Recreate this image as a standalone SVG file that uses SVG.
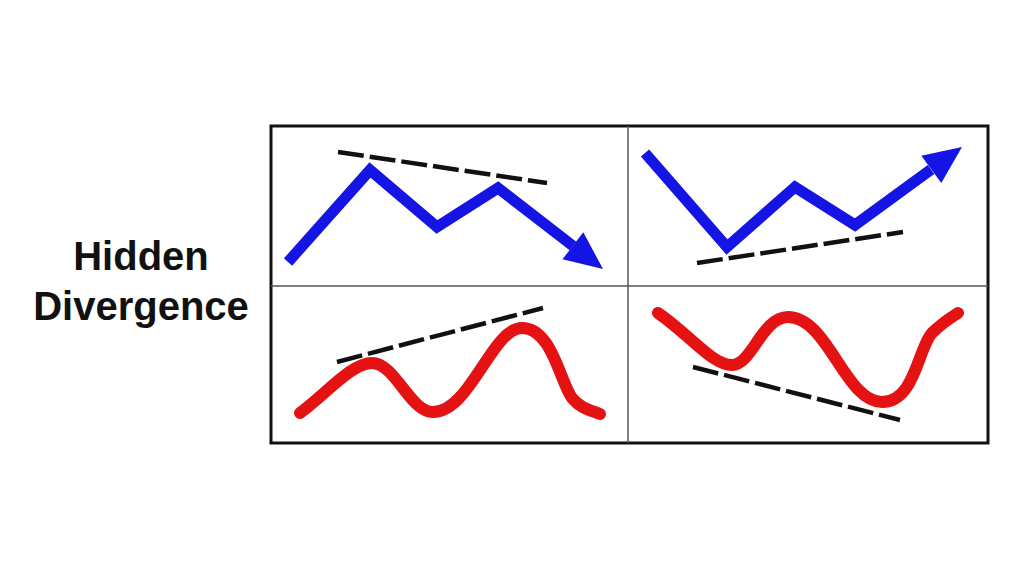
<svg xmlns="http://www.w3.org/2000/svg" width="1024" height="575" viewBox="0 0 1024 575">
<style>
.lbl{font-family:"Liberation Sans",Arial,sans-serif;font-weight:bold;font-size:40px;fill:#111;text-anchor:middle}
.blue{fill:none;stroke:#1414e4;stroke-width:11;stroke-linejoin:miter;stroke-linecap:butt}
.head{fill:#1414e4}
.red{fill:none;stroke:#e41212;stroke-width:12;stroke-linecap:round;stroke-linejoin:round}
.dash{fill:none;stroke:#111;stroke-width:4.5;stroke-dasharray:26 6}
.div{stroke:#555;stroke-width:1.5}
</style>
<rect width="1024" height="575" fill="#ffffff"/>
<g id="label">
<text class="lbl" x="141" y="270">Hidden</text>
<text class="lbl" x="141" y="320">Divergence</text>
</g>
<g id="frame">
<rect x="271" y="126" width="717" height="317" fill="none" stroke="#111" stroke-width="3"/>
<line class="div" x1="628" y1="126" x2="628" y2="443"/>
<line class="div" x1="271" y1="286" x2="988" y2="286"/>
</g>
<g id="top-left">
<polyline class="blue" points="288,262 370,170 437,227 498,188 573,246"/>
<polygon class="head" points="603,269 562.5,259.3 583.3,232.3"/>
<line class="dash" x1="338" y1="152" x2="547" y2="183"/>
</g>
<g id="top-right">
<polyline class="blue" points="645,153 727,247 795,187 855,225 931,169.5"/>
<polygon class="head" points="962,147 941.3,183.1 921.3,155.7"/>
<line class="dash" x1="697" y1="263" x2="903" y2="232"/>
</g>
<g id="bottom-left">
<path class="red" d="M300,413 C328,392 352,363 372,363 C395,363 410,412 433,412 C470,412 492,328 522,328 C552,328 560,382 572,398 C580,408 590,410 600,414"/>
<line class="dash" x1="337" y1="362" x2="543" y2="308"/>
</g>
<g id="bottom-right">
<path class="red" d="M658,313 C690,335 712,365 732,365 C752,365 762,317 788,317 C828,317 845,402 882,402 C915,402 918,348 932,333 C942,323 950,318 958,313"/>
<line class="dash" x1="693" y1="367" x2="900" y2="420"/>
</g>
</svg>
